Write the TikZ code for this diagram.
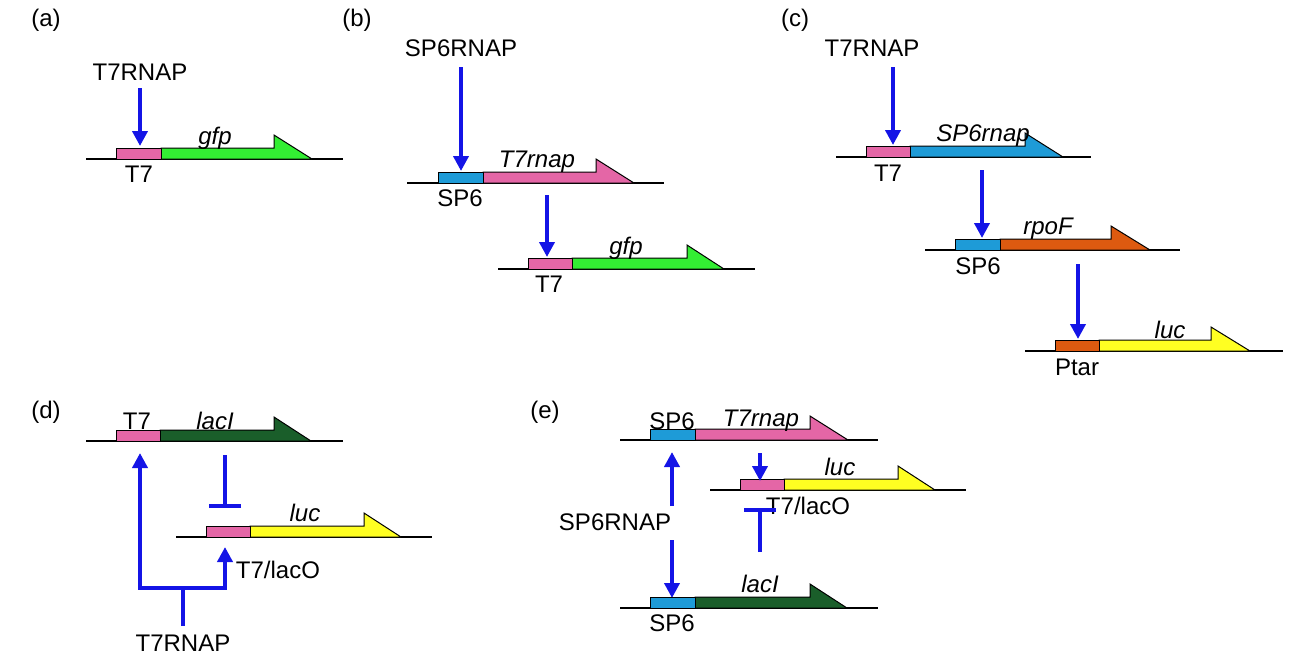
\documentclass[tikz,border=0pt]{standalone}
\usepackage{fontspec}
\setmainfont{Liberation Sans}
\usetikzlibrary{arrows.meta}
\definecolor{pk}{HTML}{E466A6}
\definecolor{gr}{HTML}{33EE33}
\definecolor{bl}{HTML}{1E9BD7}
\definecolor{ye}{HTML}{FFFF22}
\definecolor{or}{HTML}{DD5A10}
\definecolor{dg}{HTML}{1A5E2A}
\definecolor{ab}{HTML}{1414E6}
\tikzset{
  lbl/.style={font=\fontsize{24}{28}\selectfont, inner sep=0pt},
  glbl/.style={lbl, font=\fontsize{24}{28}\selectfont\itshape},
  act/.style={draw=ab, line width=4pt, -{Triangle[width=15pt,length=15pt]}},
  rep/.style={draw=ab, line width=4pt, -{Bar[width=32pt,line width=4pt]}},
  tf/.style={draw=ab, line width=4pt},
}
% \gene{y}{lineL}{promL}{promR}{headX}{tip}{lineR}{pc}{gc}
\newcommand\gene[9]{%
  \draw[line width=1.4pt] (#2,#1) -- (#7,#1);
  \draw[line width=1pt, fill=#9] (#4,#1) -- (#4,#1-11) -- (#5,#1-11) -- (#5,#1-24) -- (#6,#1) -- cycle;
  \draw[line width=1pt, fill=#8] (#3,#1) rectangle (#4,#1-11);
}
\begin{document}
\begin{tikzpicture}[x=1pt,y=-1pt]
\useasboundingbox (0,0) rectangle (1298,657);
% (a)
\node[lbl] (la) at (46,20) {(a)};
\node[lbl] (a0) at (140,72) {T7RNAP};
\gene{159}{86}{116}{161}{274}{312}{343}{pk}{gr}
\node[lbl] (a1) at (139,174) {T7};
\node[glbl] (a2) at (215,138) {gfp};
\coordinate (a3) at (140,88); \coordinate (a4) at (140,146);
\draw[act] (a3) -- (a4);
% (b)
\node[lbl] (lb) at (357,20) {(b)};
\node[lbl] (b0) at (461,48) {SP6RNAP};
\gene{183}{407}{438}{483}{596}{634}{664}{bl}{pk}
\node[lbl] (b1) at (460,198) {SP6};
\node[glbl] (b2) at (537,162) {T7rnap};
\coordinate (b3) at (461,67); \coordinate (b4) at (461,171);
\draw[act] (b3) -- (b4);
\gene{269}{498}{528}{572}{687}{724}{755}{pk}{gr}
\node[lbl] (b5) at (549,284) {T7};
\node[glbl] (b6) at (626,248) {gfp};
\coordinate (b7) at (547,195); \coordinate (b8) at (547,257);
\draw[act] (b7) -- (b8);
% (c)
\node[lbl] (lc) at (795,20) {(c)};
\node[lbl] (c0) at (872,48) {T7RNAP};
\gene{157}{836}{866}{910}{1025}{1063}{1091}{pk}{bl}
\node[lbl] (c1) at (888,173) {T7};
\node[glbl] (c2) at (983,136) {SP6rnap};
\coordinate (c3) at (893,67); \coordinate (c4) at (893,145);
\draw[act] (c3) -- (c4);
\coordinate (c5) at (982,170); \coordinate (c6) at (982,238);
\draw[act] (c5) -- (c6);
\gene{250}{925}{955}{1000}{1111}{1150}{1180}{bl}{or}
\node[lbl] (c7) at (978,266) {SP6};
\node[glbl] (c8) at (1048,229) {rpoF};
\coordinate (c9) at (1078,264); \coordinate (c10) at (1078,339);
\draw[act] (c9) -- (c10);
\gene{351}{1025}{1055}{1099}{1211}{1250}{1283}{or}{ye}
\node[lbl] (c11) at (1077,367) {Ptar};
\node[glbl] (c12) at (1170,330) {luc};
% (d)
\node[lbl] (ld) at (46,412) {(d)};
\gene{441}{86}{116}{160}{274}{311}{343}{pk}{dg}
\node[lbl] (d1) at (137,421) {T7};
\node[glbl] (d2) at (215,421) {lacI};
\coordinate (d3) at (225,455); \coordinate (d4) at (225,508);
\draw[rep] (d3) -- (d4);
\gene{537}{176}{206}{250}{364}{401}{432}{pk}{ye}
\node[glbl] (d5) at (305,513) {luc};
\node[lbl] (d6) at (278,570) {T7/lacO};
\node[lbl] (d7) at (183,643) {T7RNAP};
\coordinate (d8) at (183,626); \coordinate (d9) at (183,588);
\coordinate (d10) at (140,453); \coordinate (d11) at (225,547);
\draw[tf] (d8) -- (d9);
\draw[act] (d9) -| (d10);
\draw[act] (d9) -| (d11);
% (e)
\node[lbl] (le) at (545,412) {(e)};
\gene{440}{620}{650}{695}{810}{848}{878}{bl}{pk}
\node[lbl] (e1) at (672,421) {SP6};
\node[glbl] (e2) at (761,421) {T7rnap};
\node[lbl] (e3) at (615,522) {SP6RNAP};
\coordinate (e4) at (672,506); \coordinate (e5) at (672,452);
\draw[act] (e4) -- (e5);
\coordinate (e6) at (672,540); \coordinate (e7) at (672,598);
\draw[act] (e6) -- (e7);
\gene{490}{710}{740}{784}{898}{935}{966}{pk}{ye}
\node[glbl] (e8) at (840,467) {luc};
\node[lbl] (e9) at (808,506) {T7/lacO};
\coordinate (e10) at (760,453); \coordinate (e11) at (760,481);
\draw[act] (e10) -- (e11);
\coordinate (e12) at (760,552); \coordinate (e13) at (760,508);
\draw[rep] (e12) -- (e13);
\gene{608}{620}{650}{695}{810}{847}{878}{bl}{dg}
\node[lbl] (e14) at (672,623) {SP6};
\node[glbl] (e15) at (760,584) {lacI};
\end{tikzpicture}
\end{document}
